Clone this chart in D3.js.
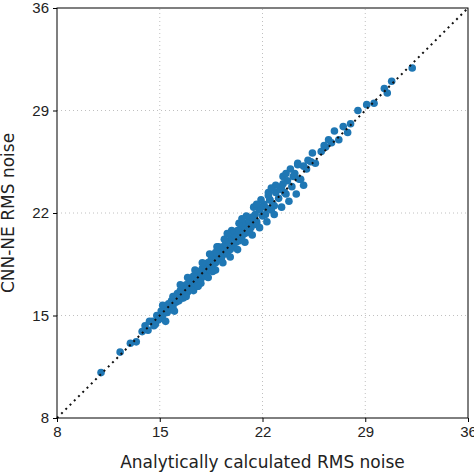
<!DOCTYPE html>
<html><head><meta charset="utf-8">
<script src="https://cdn.jsdelivr.net/npm/d3@7"></script>
<style>body{margin:0;background:#fff}svg{font-family:"DejaVu Sans",sans-serif}</style>
</head><body><div id="chart"></div>
<script>
const ticks = [8, 15, 22, 29, 36];
const analytic = [11.0,12.3,13.0,13.4,13.8,14.0,14.2,14.5,14.6,14.8,15.0,15.1,15.2,15.4,15.5,15.6,15.7,15.8,15.9,16.0,16.1,16.2,16.3,16.4,16.5,16.6,16.7,16.8,16.9,17.0,17.0,17.1,17.2,17.3,17.4,17.5,17.6,17.7,17.8,17.9,18.0,18.1,18.2,18.3,18.4,18.5,18.6,18.7,18.8,18.9,19.0,19.1,19.2,19.3,19.4,19.5,19.6,19.7,19.8,19.9,20.0,20.1,20.2,20.3,20.4,20.5,20.6,20.7,20.8,20.9,21.0,21.1,21.2,21.3,21.4,21.5,21.6,21.8,22.0,22.1,22.3,22.5,22.7,22.9,23.1,23.3,23.5,23.7,24.0,24.2,24.5,24.8,25.0,25.3,25.6,26.0,26.3,26.7,27.2,27.5,28.0,28.5,29.1,29.6,30.3,30.5,30.8,32.2,
  14.3,14.9,15.3,15.6,15.9,16.2,16.5,16.8,17.1,17.4,17.7,18.0,18.3,18.6,18.9,19.2,19.5,19.8,20.1,20.4,20.7,21.0,21.3,21.6,21.9,22.2,22.5,22.8,23.2,23.6,24.1,24.6,25.1,15.8,16.6,17.3,18.1,18.8,19.6,20.3,21.1,21.8,22.6,23.4,16.0,15.4,17.6,19.0,20.6,22.4,24.4,26.5,27.8,
  16.4,16.9,17.4,17.9,18.4,18.9,19.4,19.9,20.4,20.9,21.4,21.9,22.4,22.9,23.4,23.9,24.4,16.8,17.3,17.8,18.3,18.8,19.3,19.8,20.3,20.8,21.3,21.8,22.3,22.8,23.3,23.8,24.3,24.8,19.6,20.6,21.6,22.6,23.6,18.6,17.6,15.2,14.7,25.4,26.2,26.9];
const cnn = [11.1,12.5,13.1,13.2,13.9,14.3,14.0,14.6,14.3,15.0,14.8,15.3,15.0,15.6,15.2,15.8,15.5,16.0,15.6,16.3,15.9,16.5,16.0,16.7,16.2,16.9,16.4,17.1,16.6,17.3,16.8,17.5,17.0,17.6,17.1,17.8,17.4,18.0,17.5,18.2,17.8,18.4,18.0,18.6,18.1,18.8,18.4,19.1,18.6,19.2,18.8,19.5,19.0,19.7,19.2,19.9,19.4,20.1,19.6,20.3,19.8,20.5,20.0,20.7,20.2,20.9,20.4,21.1,20.6,21.3,20.8,21.5,21.0,21.7,21.2,21.9,21.4,22.2,21.8,22.6,22.3,22.9,22.6,23.4,23.0,23.8,23.4,24.2,23.8,24.7,24.3,25.2,25.0,25.5,25.4,26.2,26.5,26.8,27.0,27.9,28.1,29.0,29.4,29.5,30.5,30.2,31.0,31.9,
  14.6,14.7,15.6,15.4,16.3,16.0,16.8,16.5,17.4,17.2,18.0,17.7,18.6,18.4,19.3,18.9,19.9,19.5,20.5,20.1,21.1,20.7,21.7,21.3,22.4,21.9,22.9,22.5,23.6,23.3,24.5,24.3,25.6,15.4,16.2,17.7,17.7,19.3,19.2,20.8,20.7,22.3,22.2,24.0,15.3,14.6,17.0,19.7,21.3,23.2,25.3,27.0,27.5,
  17.1,17.6,18.1,18.6,19.2,19.7,20.2,20.8,21.3,21.8,22.4,22.9,23.4,23.9,24.5,25.0,25.4,16.3,16.7,17.2,17.6,18.1,18.6,19.0,19.5,20.0,20.5,21.0,21.4,21.9,22.4,22.8,23.3,23.9,20.6,21.6,22.6,23.7,24.7,18.0,17.0,15.7,14.4,26.1,26.6,27.6];

const W = 474, H = 474, m = {top: 8, right: 6, bottom: 56, left: 57};
const svg = d3.select("#chart").append("svg").attr("width", W).attr("height", H);
const x = d3.scaleLinear().domain([8, 36]).range([m.left, W - m.right]);
const y = d3.scaleLinear().domain([8, 36]).range([H - m.bottom, m.top]);

const grid = svg.append("g").attr("stroke", "#b0b0b0").attr("stroke-dasharray", "1,3").attr("stroke-width", 0.8);
ticks.slice(1, -1).forEach(t => {
  grid.append("line").attr("x1", x(t)).attr("x2", x(t)).attr("y1", y(8)).attr("y2", y(36));
  grid.append("line").attr("x1", x(8)).attr("x2", x(36)).attr("y1", y(t)).attr("y2", y(t));
});

svg.append("g").selectAll("circle").data(analytic.map((d, i) => [d, cnn[i]])).join("circle")
  .attr("cx", d => x(d[0])).attr("cy", d => y(d[1])).attr("r", 3.8).attr("fill", "#1f77b4");

svg.append("line").attr("x1", x(8)).attr("y1", y(8)).attr("x2", x(36)).attr("y2", y(36))
  .attr("stroke", "#111").attr("stroke-width", 2).attr("stroke-dasharray", "2,4");

svg.append("g").attr("transform", `translate(0,${y(8)})`)
  .call(d3.axisBottom(x).tickValues(ticks).tickSize(4).tickPadding(4))
  .call(g => g.selectAll("text").attr("font-size", 15).attr("fill", "#222"));
svg.append("g").attr("transform", `translate(${x(8)},0)`)
  .call(d3.axisLeft(y).tickValues(ticks).tickSize(4).tickPadding(4))
  .call(g => g.selectAll("text").attr("font-size", 15).attr("fill", "#222"));
svg.selectAll(".domain").remove();
svg.append("rect").attr("x", x(8)).attr("y", y(36)).attr("width", x(36) - x(8)).attr("height", y(8) - y(36))
  .attr("fill", "none").attr("stroke", "#000").attr("stroke-width", 1);

svg.append("text").attr("x", (x(8) + x(36)) / 2).attr("y", 468).attr("text-anchor", "middle")
  .attr("font-size", 17).attr("fill", "#222").text("Analytically calculated RMS noise");
svg.append("text").attr("transform", `translate(14,${(y(8) + y(36)) / 2}) rotate(-90)`)
  .attr("text-anchor", "middle").attr("font-size", 17).attr("fill", "#222").text("CNN-NE RMS noise");
</script></body></html>
